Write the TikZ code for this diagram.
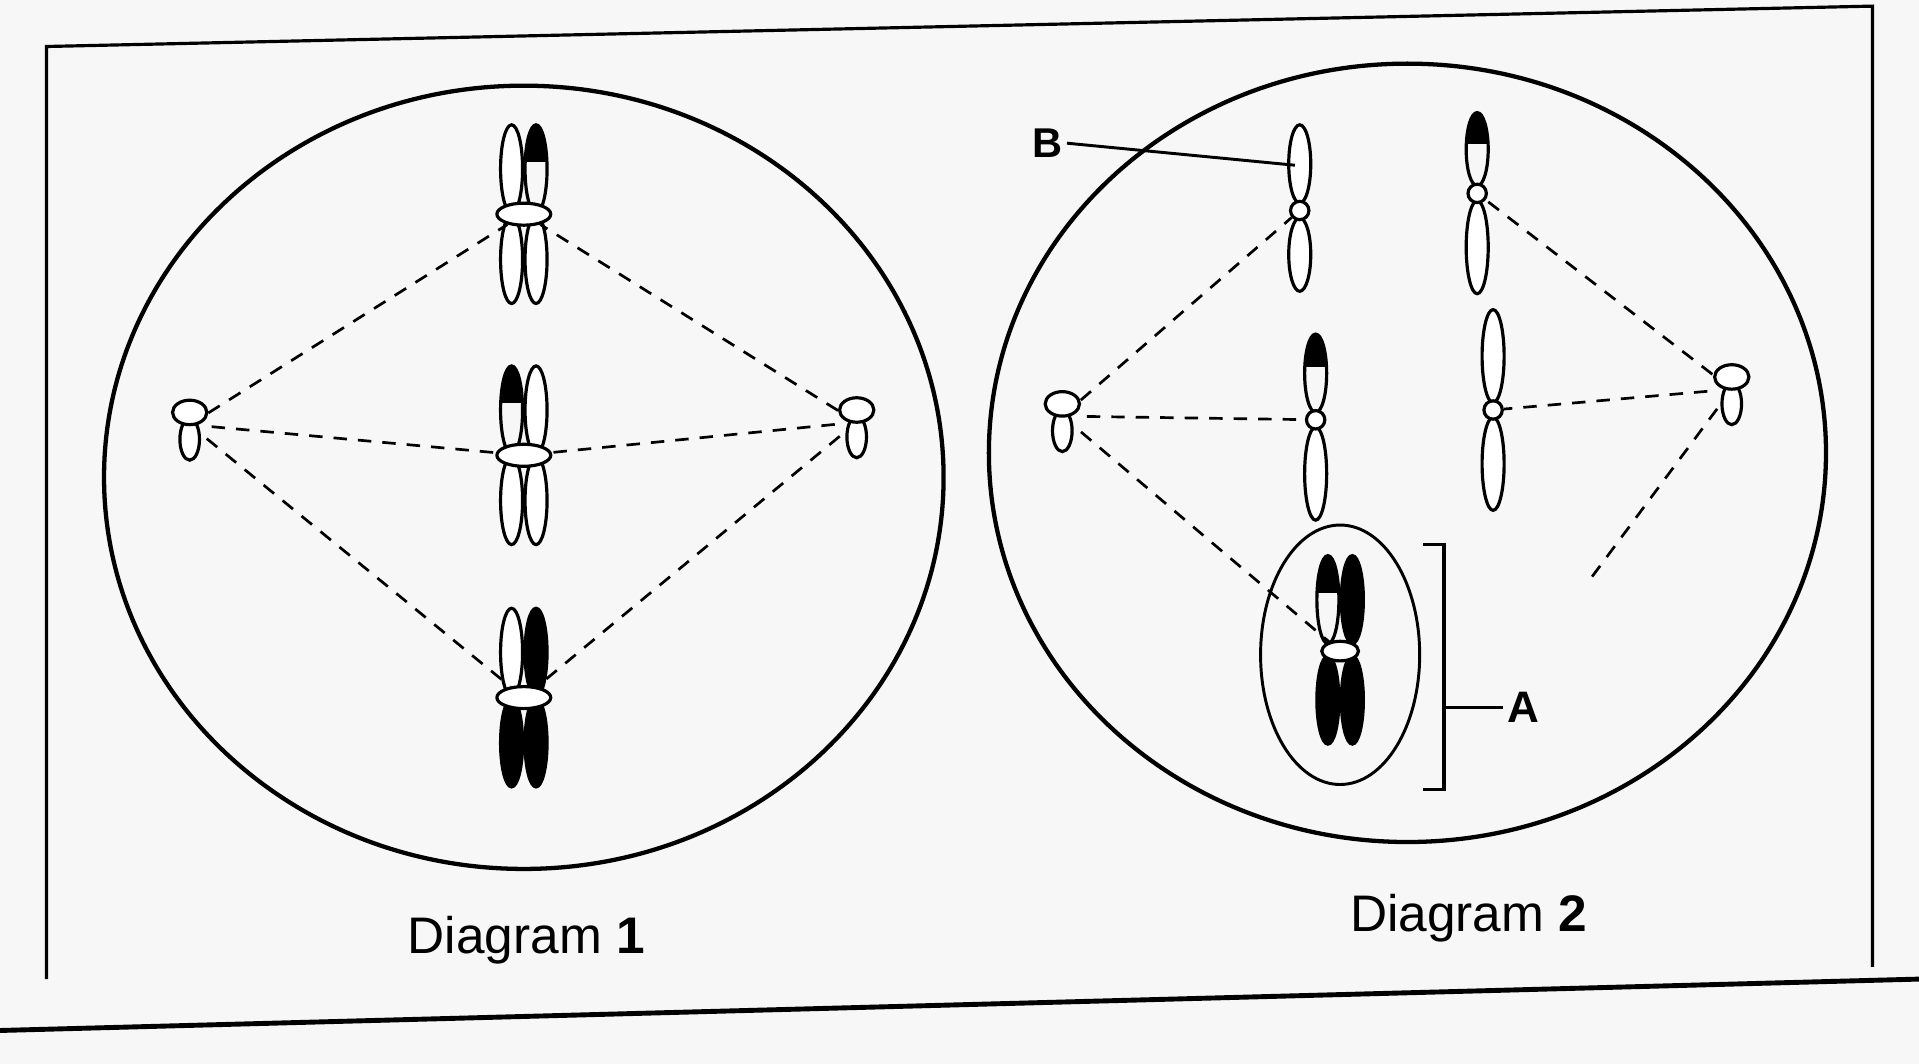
\documentclass[tikz,border=0pt]{standalone}
\usepackage{fontspec}
\setmainfont{Liberation Sans}
\usetikzlibrary{shapes.geometric}
\newcommand\arm[4]{%
 \ifcase#4 \draw[line width=2.6pt,fill=white] (#1,#2) ellipse (9 and #3);
 \or \draw[line width=2.6pt,fill=black] (#1,#2) ellipse (9 and #3);
 \or \begin{scope}\clip (#1,#2) ellipse (9 and #3); \fill[black] (#1-10,#2-#3-1) rectangle (#1+10,#2-#3*0.15);\end{scope}\draw[line width=2.6pt] (#1,#2) ellipse (9 and #3);
 \fi}
\newcommand\dchr[7]{%
 \arm{#1-10}{#2-37}{36}{#4}\arm{#1+10}{#2-37}{36}{#5}
 \arm{#1-10}{#2+37}{36}{#6}\arm{#1+10}{#2+37}{36}{#7}
 \node[cen] (#3) at (#1,#2) {};}
\newcommand\schr[7]{%
 \arm{#1}{#2-#6-6}{#6}{#4}\arm{#1}{#2+#7+6}{#7}{#5}
 \node[draw,line width=2.6pt,fill=white,circle,minimum size=15pt,inner sep=0] (#3) at (#1,#2) {};}
\newcommand\centriole[3]{%
 \draw[line width=2.6pt,fill=white] (#1,#2+22) ellipse (8 and 17);
 \draw[line width=2.6pt,fill=white] (#1,#2) ellipse (14 and 10);
 \coordinate (#3) at (#1,#2+10);}
\tikzset{cen/.style={draw,line width=2.6pt,fill=white,ellipse,minimum width=44pt,minimum height=18pt,inner sep=0},
 spd/.style={line width=2.2pt,dash pattern=on 11pt off 9pt},
 lbl/.style={font=\fontsize{42}{42}\selectfont}}
\begin{document}
\begin{tikzpicture}[x=1pt,y=-1pt]
\useasboundingbox (0,0) rectangle (1568,869);
\fill[gray!6] (0,0) rectangle (1568,869);
\draw[line width=2.6pt] (38,800) -- (38,38) -- (1530,5) -- (1530,790);
\draw[line width=4pt] (0,842) -- (1568,800);
\draw[line width=3.5pt] (428,390) ellipse (343 and 320);
\draw[line width=3.5pt] (1150,370) ellipse (342 and 318);
% diagram 1
\dchr{428}{175}{c1}{0}{2}{0}{0}
\dchr{428}{372}{c2}{2}{0}{0}{0}
\dchr{428}{570}{c3}{0}{1}{1}{1}
\centriole{155}{337}{L1}
\centriole{700}{335}{R1}
\foreach \t in {c1,c2,c3}{\draw[spd,shorten <=18pt] (L1) -- (\t); \draw[spd,shorten <=18pt] (R1) -- (\t);}
\node[lbl] at (430,768) {Diagram \textbf{1}};
% diagram 2
\schr{1062}{172}{s1}{0}{0}{32}{30}
\schr{1207}{158}{s2}{2}{0}{30}{38}
\schr{1075}{343}{s3}{2}{0}{32}{38}
\schr{1220}{335}{s4}{0}{0}{38}{38}
\draw[line width=2.4pt] (1095,535) ellipse (65 and 106);
\arm{1085}{490}{36}{2}\arm{1105}{490}{36}{1}
\arm{1085}{572}{36}{1}\arm{1105}{572}{36}{1}
\node[draw,line width=2.6pt,fill=white,ellipse,minimum width=30pt,minimum height=16pt,inner sep=0] (p) at (1095,532) {};
\centriole{868}{330}{L2}
\centriole{1415}{308}{R2}
\coordinate (fe) at (1298,475);
\foreach \t in {s1,s3,p}{\draw[spd,shorten <=20pt] (L2) -- (\t);}
\foreach \t in {s2,s4,fe}{\draw[spd,shorten <=20pt] (R2) -- (\t);}
\draw[line width=3pt] (1163,445) -- (1180,445) -- (1180,645) -- (1163,645);
\coordinate (tk) at (1180,578);
\node[lbl,font=\bfseries\fontsize{36}{36}\selectfont] (A) at (1245,578) {A};
\draw[line width=3pt] (tk) -- (A.west);
\node[lbl,font=\bfseries\fontsize{34}{34}\selectfont] (B) at (856,117) {B};
\coordinate (bt) at (1058,135);
\draw[line width=2.4pt] (B.east) -- (bt);
\node[lbl] at (1200,750) {Diagram \textbf{2}};
\end{tikzpicture}
\end{document}
